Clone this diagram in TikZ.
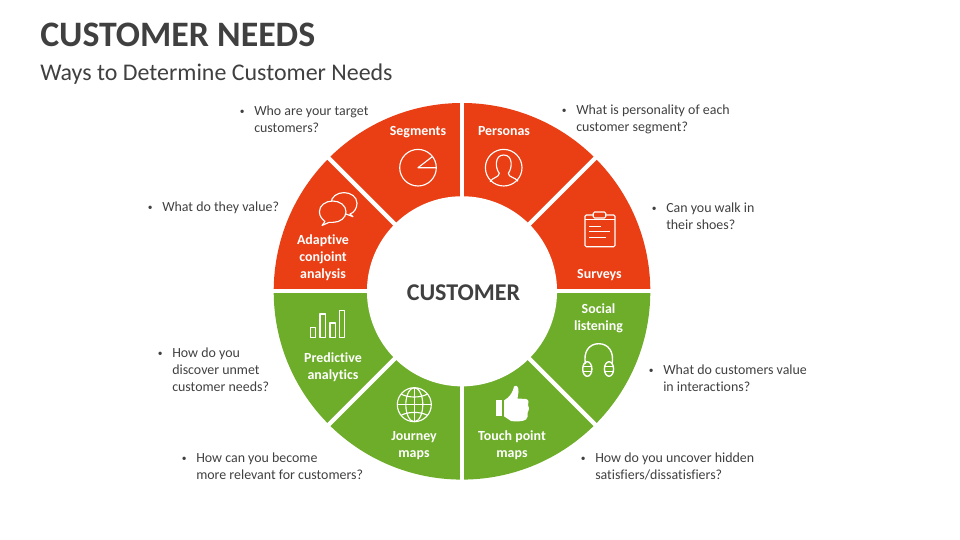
\documentclass[tikz,border=0pt]{standalone}
\usepackage{fontspec}
\setmainfont{Carlito}[Ligatures=NoCommon]
\definecolor{needred}{HTML}{EA3E14}
\definecolor{needgreen}{HTML}{6DAD29}
\definecolor{needgray}{HTML}{404040}
\tikzset{
 seglabel/.style={font=\fontsize{11}{13.4}\selectfont\bfseries,text=white,align=center,inner sep=0pt},
 question/.style={font=\fontsize{11}{13.4}\selectfont,text=needgray,align=left,anchor=west,inner sep=0pt},
 icon/.style={draw=white,line width=0.9pt,line join=round},
 divider/.style={draw=white,line width=3pt}
}
\newcommand{\bul}{\llap{\raisebox{0.8pt}{\fontsize{7.5}{8}\selectfont\textbullet}\hspace{7.6pt}}}
\begin{document}
\begin{tikzpicture}[x=0.027778cm,y=-0.027778cm]
\useasboundingbox (0,0) rectangle (960,540);
\node[font=\fontsize{28.3}{30}\selectfont\bfseries,text=needgray,anchor=west,inner sep=0pt] (title) at (40,35) {CUSTOMER NEEDS};
\node[font=\fontsize{18.9}{20}\selectfont,text=needgray,anchor=west,inner sep=0pt] (subtitle) at (40,74) {Ways to Determine Customer Needs};

% ring
\fill[needred] (273.7,291.3) arc[start angle=180,end angle=360,radius=188.3] -- cycle;
\fill[needgreen] (650.3,291.3) arc[start angle=0,end angle=180,radius=188.3] -- cycle;
\draw[divider] (462,100) -- (462,483);
\draw[divider] (270,291.3) -- (654,291.3);
\draw[divider,line width=3.4pt] (326,155.3) -- (598,427.3);
\draw[divider,line width=3.4pt] (598,155.3) -- (326,427.3);
\node[circle,fill=white,minimum size=5.28cm,inner sep=0pt] (hub) at (462,291.3) {};
\node[font=\fontsize{19}{20}\selectfont\bfseries,text=needgray,inner sep=0pt] (customer) at (463.5,292.5) {CUSTOMER};

% labels
\node[seglabel] (segments) at (418,132) {Segments};
\node[seglabel] (personas) at (504,131) {Personas};
\node[seglabel] (surveys) at (599.5,275) {Surveys};
\node[seglabel] (adaptive) at (323,258) {Adaptive\\conjoint\\analysis};
\node[seglabel] (social) at (598.5,318.5) {Social\\listening};
\node[seglabel] (predictive) at (333,367.5) {Predictive\\analytics};
\node[seglabel] (journey) at (414,446) {Journey\\maps};
\node[seglabel] (touch) at (512,445.5) {Touch point\\maps};

% questions
\node[question] (q1) at (254,119.5) {\bul Who are your target\\customers?};
\node[question] (q2) at (576,119.5) {\bul What is personality of each\\customer segment?};
\node[question] (q3) at (666,216.5) {\bul Can you walk in\\their shoes?};
\node[question] (q4) at (162,208) {\bul What do they value?};
\node[question] (q5) at (172,370) {\bul How do you\\discover unmet\\customer needs?};
\node[question] (q6) at (663,378.5) {\bul What do customers value\\in interactions?};
\node[question] (q7) at (196,466.5) {\bul How can you become\\more relevant for customers?};
\node[question] (q8) at (595,466.5) {\bul How do you uncover hidden\\satisfiers/dissatisfiers?};

% segments icon
\draw[icon] (418,167.7) circle[radius=18.3];
\draw[icon] (436.3,167.7) -- (418,167.7) -- (432.5,156.5);

% personas icon
\draw[icon] (503.7,167.7) circle[radius=18.3];
\draw[icon] (490,181.7) .. controls (493,177) and (499,177.5) .. (499.3,173.3) .. controls (495,168) and (494.5,155) .. (503.7,155) .. controls (513,155) and (512.5,168) .. (508.3,173.3) .. controls (508.5,177.5) and (515,177) .. (518,181.2);

% surveys icon
\draw[icon,rounded corners=1pt] (585,215) rectangle (615,246.7);
\draw[icon] (585,219.3) -- (615,219.3);
\draw[icon,fill=needred,rounded corners=1pt] (593.3,212) rectangle (605.7,218);
\draw[icon] (589.3,226.7) -- (600.7,226.7);
\draw[icon] (589.3,231.7) -- (610,231.7);
\draw[icon] (589.3,237.3) -- (606,237.3);

% adaptive icon
\draw[icon] (350,214) .. controls (354,213) and (357,208) .. (357,203.3) .. controls (357,197) and (351,192.6) .. (344,192.6) .. controls (337,192.6) and (331,197) .. (331,203.3) .. controls (331,210) and (337,214) .. (344,214) -- (346,214) -- (353,216.7) -- cycle;
\draw[icon,fill=needred] (325,221.5) .. controls (322.5,219.5) and (319.4,216.5) .. (319.4,211.7) .. controls (319.4,205.5) and (325.5,201) .. (332.7,201) .. controls (340,201) and (346,205.5) .. (346,211.7) .. controls (346,218) and (340,222.4) .. (332.7,222.4) -- (329,222.4) -- (322,225.5) -- cycle;

% predictive icon
\draw[icon] (310.3,337.3) rectangle (315.7,327.3);
\draw[icon] (320,337.3) rectangle (325.3,314);
\draw[icon] (330,337.3) rectangle (335.3,323);
\draw[icon] (339.3,337.3) rectangle (344.7,310.7);

% journey icon
\draw[icon] (414.3,404.7) circle[radius=17];
\draw[icon] (414.3,404.7) ellipse[x radius=8.5,y radius=17];
\draw[icon] (414.3,387.7) -- (414.3,421.7);
\draw[icon] (397.3,404.7) -- (431.3,404.7);
\draw[icon] (401,394) .. controls (408,398) and (420.6,398) .. (427.6,394);
\draw[icon] (401,415.4) .. controls (408,411.4) and (420.6,411.4) .. (427.6,415.4);

% touch point icon
\fill[white] (496,399.7) rectangle (501.7,416.3);
\fill[white] (504,400.5) .. controls (510,397) and (513,392) .. (514,386.5) .. controls (517,384) and (519,388) .. (518.5,392) -- (517.5,398.5) -- (526,399) .. controls (529,399.5) and (529,403) .. (528,405) .. controls (530,409) and (528,412) .. (527.5,413) .. controls (528.5,416) and (527,418) .. (526,419.5) .. controls (523,422) and (514,421.5) .. (511,421) -- (504,416.3) -- cycle;

% social icon
\draw[icon,line width=1.1pt] (585.5,364) .. controls (583,352) and (589,343.7) .. (598.7,343.7) .. controls (608.4,343.7) and (614.4,352) .. (612,364);
\draw[icon,line width=1.1pt] (587.3,369) ellipse[x radius=4.6,y radius=7.3];
\draw[icon,line width=1.1pt] (609,369) ellipse[x radius=4.6,y radius=7.3];
\draw[icon,line width=1.1pt] (582.7,366.5) -- (591.9,366.5);
\draw[icon,line width=1.1pt] (582.7,371.5) -- (591.9,371.5);
\draw[icon,line width=1.1pt] (604.4,366.5) -- (613.6,366.5);
\draw[icon,line width=1.1pt] (604.4,371.5) -- (613.6,371.5);
\end{tikzpicture}
\end{document}
